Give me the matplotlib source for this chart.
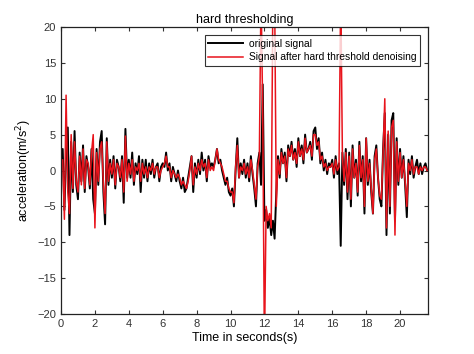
import numpy as np
import matplotlib
matplotlib.use("Agg")
import matplotlib.pyplot as plt

plt.rcParams['font.family'] = ['Liberation Sans', 'DejaVu Sans']

dt = 0.1
original = [
    1.5, 3.0, -5.5, 2.0, 6.0, -9.0, 4.0, -3.0, 5.5, -2.0,
    -4.0, 2.5, -1.5, 3.5, -3.0, 2.0, 0.5, -2.5, 3.0, -4.0,
    -6.0, 3.0, -2.0, 4.0, 5.5, -3.0, -7.5, 4.5, -2.0, 1.5,
    -1.0, 2.0, -2.5, 1.5, 0.5, -1.5, 2.0, -4.5, 5.8, -1.0,
    1.5, -1.0, 2.5, -2.0, 1.0, -0.5, 2.0, -3.0, 1.5, -1.0,
    1.5, -1.5, 1.0, -0.5, 1.5, -1.0, 0.5, 1.0, -1.5, 0.5,
    1.0, 0.5, 2.5, 0.0, 1.0, -1.5, 0.5, -0.5, -1.5, 0.0,
    -1.5, -2.5, -1.0, -3.0, -2.5, -1.0, 0.5, 2.0, -3.0, 1.0,
    -1.0, 1.5, -0.5, 2.5, 0.0, 1.5, -1.5, 2.0, 0.5, 1.0,
    0.5, 1.5, 3.0, 1.0, 1.5, 0.0, -1.0, -2.0, -1.0, -3.0,
    -3.5, -2.5, -5.0, 0.0, 4.5, -1.0, 1.0, -0.5, 1.5, -1.0,
    1.0, -1.5, 2.0, -0.5, -2.5, -5.0, 1.0, 2.5, -2.0, 12.0,
    -7.0, -5.5, -8.0, -6.5, -9.0, -7.0, -9.5, -3.0, 2.0, -1.0,
    3.0, 1.0, 2.5, -1.5, 3.5, 2.0, 4.0, 1.5, 3.0, 0.5,
    4.5, 2.0, 3.5, 1.0, 5.0, 2.5, 3.0, 4.0, 1.5, 5.5,
    6.0, 3.0, 4.5, 1.0, 2.5, 0.0, 1.5, -0.5, 1.0, 0.5,
    1.5, -1.0, 2.0, -0.5, 1.0, -10.5, 2.5, -2.0, 3.0, -4.0,
    2.5, -5.0, 3.5, -1.0, 1.5, -3.5, 4.0, -1.5, 2.0, -6.0,
    4.5, -2.0, 1.5, -3.0, -6.0, 2.0, 3.5, -1.0, -4.0, -5.0,
    3.0, 8.0, -9.0, 5.0, -6.0, 7.0, 8.0, -7.0, 4.5, -2.0,
    3.0, -1.0, 2.0, -2.0, -6.5, 1.5, -0.5, 2.0, -1.0, 0.5,
    1.5, -0.5, 1.0, -0.5, 0.5, 1.0, 0.0,
]
denoised = [
    1.0, 1.5, -6.8, 10.5, -3.0, -6.0, 5.0, -2.5, 4.0, -1.5,
    -3.0, 2.0, -2.0, 3.0, -2.5, 1.5, 1.0, -2.0, 2.5, 5.0,
    -8.0, 2.5, -1.5, 3.0, 4.0, -2.0, -6.0, 4.0, -1.5, 1.0,
    -0.5, 1.5, -2.0, 1.0, 0.5, -1.0, 1.5, -3.0, 4.8, -1.5,
    1.0, -0.5, 1.5, -1.5, 0.5, 0.0, 1.0, -1.5, 1.0, -0.5,
    0.5, -1.0, 0.5, 0.0, 1.0, -0.5, 0.5, 0.5, -1.0, 0.0,
    0.5, 1.0, 2.0, 0.5, 0.5, -1.0, 0.0, -0.5, -1.0, -0.5,
    -1.0, -2.0, -1.5, -2.0, -2.5, -1.5, 0.0, 2.0, -2.0, 0.5,
    -0.5, 1.0, 0.0, 1.5, 0.5, 1.0, -1.0, 1.5, 0.0, 0.5,
    0.0, 1.5, 3.0, 1.5, 1.0, 0.5, -0.5, -1.5, -1.5, -2.5,
    -3.0, -3.0, -4.5, 0.5, 3.5, -1.0, 0.5, 0.0, 1.0, -0.5,
    0.5, -1.0, 1.5, 0.0, -2.0, -4.0, 0.5, 2.0, 25.0, 8.0,
    -25.0, -5.0, -7.0, -6.0, -8.0, 25.0, 25.0, -5.0, 1.5, -0.5,
    2.5, 1.0, 2.0, -1.0, 3.0, 2.0, 3.5, 1.5, 2.5, 1.0,
    4.0, 2.0, 3.0, 1.5, 4.5, 2.5, 3.0, 3.5, 2.0, 5.0,
    5.0, 3.5, 4.0, 1.5, 2.0, 0.5, 1.0, 0.0, 0.5, 0.5,
    1.0, -0.5, 1.5, 0.0, 0.5, 25.0, 2.0, -1.5, 2.5, -3.0,
    2.0, -4.0, 3.0, -1.0, 1.0, -3.0, 3.5, -1.0, 1.5, -5.0,
    4.5, -1.5, 1.0, -2.5, -6.0, 1.5, 3.0, -1.0, -3.5, -4.0,
    2.5, 10.0, -8.0, 5.5, -5.0, 6.0, 7.0, -9.0, 4.0, -1.5,
    2.5, -1.0, 1.5, -1.5, -5.0, 1.0, 0.0, 1.5, -0.5, 0.5,
    0.5, -0.5, 0.5, 0.0, 0.5, 0.5, 0.0,
]
t = np.arange(len(original)) * dt

fig = plt.figure(figsize=(4.74, 3.54), dpi=100)
ax = fig.add_axes([0.1287, 0.113, 0.7743, 0.8107])
ax.plot(t, original, color='black', lw=1.4, label='original signal')
ax.plot(t, denoised, color='#e8141c', lw=1.1, label='Signal after hard threshold denoising')
ax.set_xlim(0, 21.65)
ax.set_ylim(-20, 20)
ax.set_xticks(np.arange(0, 21, 2))
ax.set_yticks(np.arange(-20, 21, 5))
ax.tick_params(direction='in', top=True, right=True, labelsize=8, length=3, colors='#333333', labelcolor='#333333')
for s in ax.spines.values():
    s.set_color('#222222')
    s.set_linewidth(0.9)
ax.set_title('hard thresholding', fontsize=9, pad=3)
ax.set_xlabel('Time in seconds(s)', fontsize=9, labelpad=2)
ax.set_ylabel('acceleration(m/s$^2$)', fontsize=9, labelpad=2)
leg = ax.legend(loc='upper right', fontsize=7.4, frameon=True, fancybox=False,
                edgecolor='black', handlelength=3.4, borderpad=0.35, labelspacing=0.35,
                handletextpad=0.5, borderaxespad=0.8)
leg.get_frame().set_linewidth(0.8)
fig.savefig('out.png', dpi=100)
